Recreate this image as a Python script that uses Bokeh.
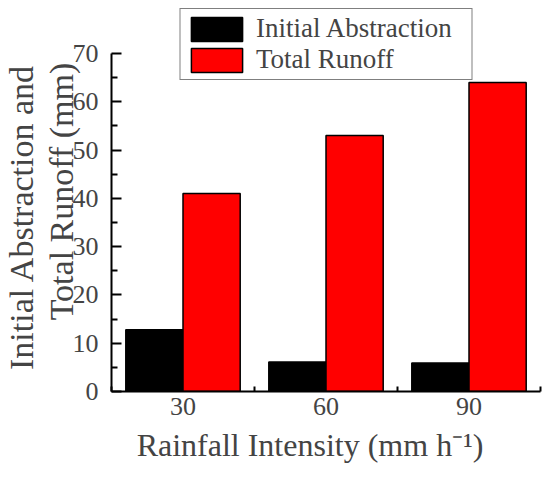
from bokeh.plotting import figure
from bokeh.models import ColumnDataSource, FixedTicker, Legend, LegendItem, Range1d
from bokeh.embed import file_html
from bokeh.resources import INLINE

# data
intensity = ["30", "60", "90"]
initial_abstraction = [12.8, 6.1, 5.9]
total_runoff = [41.0, 53.0, 64.0]
y_ticks = [0, 10, 20, 30, 40, 50, 60, 70]
y_minor_ticks = [5, 15, 25, 35, 45, 55, 65]

FONT = "Liberation Serif"
NBSP = "\u00a0"

group = list(range(len(intensity)))
src = ColumnDataSource(dict(
    x_ia=[g + 0.3 for g in group],
    x_tr=[g + 0.7 for g in group],
    ia=initial_abstraction,
    tr=total_runoff,
))

# frame runs a bit above 70 so the legend fits inside it; the y axis stops at 70
p = figure(frame_width=429, frame_height=383,
           min_border_left=102, min_border_right=3, min_border_top=8, min_border_bottom=84,
           x_range=Range1d(0, len(intensity)), y_range=Range1d(0, 79.3),
           output_backend="svg", toolbar_location=None, tools="")

r_ia = p.vbar(x="x_ia", top="ia", width=0.4, source=src,
              fill_color="black", line_color="black", line_width=1.5)
r_tr = p.vbar(x="x_tr", top="tr", width=0.4, source=src,
              fill_color="red", line_color="black", line_width=1.5)

p.grid.visible = False
p.outline_line_color = None
p.background_fill_color = "white"
p.border_fill_color = "white"

# x axis: labels at group centres, little inward ticks at group edges
xa = p.xaxis[0]
xa.ticker = FixedTicker(ticks=[g + 0.5 for g in group], minor_ticks=list(range(len(intensity) + 1)))
xa.major_label_overrides = {g + 0.5: lab for g, lab in zip(group, intensity)}
xa.major_tick_in = 0
xa.major_tick_out = 0
xa.minor_tick_in = 5
xa.minor_tick_out = 0
xa.minor_tick_line_width = 2
xa.axis_line_width = 2
xa.major_label_text_font = FONT
xa.major_label_text_font_size = "26px"
xa.major_label_standoff = 6
xa.axis_label = "Rainfall Intensity (mm h\u207b\u00b9)" + NBSP * 4   # nudges the title left like the original
xa.axis_label_text_font = FONT
xa.axis_label_text_font_size = "32px"
xa.axis_label_text_font_style = "normal"
xa.axis_label_standoff = 9

ya = p.yaxis[0]
ya.bounds = (0, 70)
ya.ticker = FixedTicker(ticks=y_ticks, minor_ticks=y_minor_ticks)
ya.major_tick_in = 10
ya.major_tick_out = 0
ya.minor_tick_in = 6
ya.minor_tick_out = 0
ya.major_tick_line_width = 2
ya.minor_tick_line_width = 2
ya.axis_line_width = 2
ya.major_label_text_font = FONT
ya.major_label_text_font_size = "26px"
ya.major_label_standoff = 13
# padding spaces shift each line along the axis to where the original has them
ya.axis_label = ("Initial Abstraction and" + NBSP * 4 + "\n"
                 + NBSP * 2 + "Total Runoff (mm)")
ya.axis_label_text_font = FONT
ya.axis_label_text_font_size = "34px"
ya.axis_label_text_font_style = "normal"
ya.axis_label_text_line_height = 1.06
ya.axis_label_standoff = -10

legend = Legend(items=[LegendItem(label="Initial Abstraction", renderers=[r_ia]),
                       LegendItem(label="Total Runoff", renderers=[r_tr])],
                location="top_center", margin=0, padding=4, spacing=0,
                glyph_width=64, glyph_height=30, label_standoff=8, label_width=211,
                border_line_color="black", border_line_width=1.5,
                label_text_font=FONT, label_text_font_size="27px")
p.add_layout(legend)

open("out.html", "w").write(file_html(p, INLINE))
